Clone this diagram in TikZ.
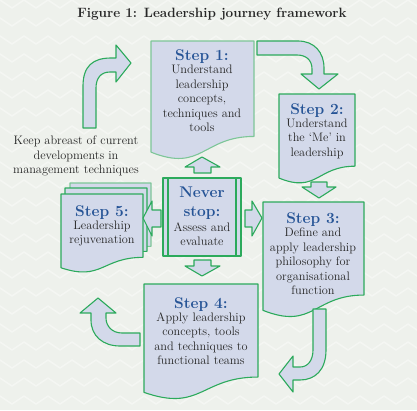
\documentclass[tikz,border=0pt]{standalone}
\usepackage{tikz}
\usetikzlibrary{positioning}
\definecolor{bgpaper}{RGB}{238,241,236}
\definecolor{boxfill}{RGB}{211,217,234}
\definecolor{boxline}{RGB}{44,170,92}
\definecolor{paleline}{RGB}{125,198,152}
\definecolor{headblue}{RGB}{38,84,150}
\definecolor{bodygrey}{RGB}{38,38,38}
% document shape: [style] left, top, right, height
\newcommand{\docshape}[5][]{%
  \filldraw[shapebox,#1] (#2,#3) -- (#4,#3) -- (#4,{#3+0.802*#5})
    .. controls ({(#2+#4)/2},{#3+0.802*#5}) and ({(#2+#4)/2},{#3+1.107*#5}) .. (#2,{#3+0.934*#5}) -- cycle;}
\newcommand{\head}[1]{{\fontsize{15.5}{18}\selectfont\bfseries\color{headblue}#1}}

\begin{document}
\begin{tikzpicture}[x=1pt,y=-1pt,line join=round,
  shapebox/.style={fill=boxfill,draw=boxline,line width=1.1pt},
  blockarrow/.style={fill=boxfill,draw=boxline,line width=1.1pt},
  boxtext/.style={align=center,inner sep=0pt,text=bodygrey,font=\fontsize{12.3}{14.5}\selectfont}]
\useasboundingbox (0,0) rectangle (417,410);
\fill[bgpaper] (0,0) rectangle (417,410);
% faint zigzag paper pattern
\begin{scope}
\clip (0,0) rectangle (417,410);
\foreach \y in {-10,8,...,420}
  \draw[white,opacity=0.4,line width=1.4pt]
    (-10,\y) \foreach \x in {0,24,...,432} { -- (\x,\y-8) -- (\x+12,\y) };
\end{scope}
\node[font=\fontsize{13.5}{16}\selectfont\bfseries,text=bodygrey] (title) at (212,14) {Figure 1: Leadership journey framework};

% documents
\docshape[draw=paleline]{151}{41}{254}{119}
\docshape{279}{94}{355}{90}
\docshape{263}{202}{364}{116}
\docshape{144}{284}{258}{116}
% step 5 stack
\docshape[draw=paleline]{70}{183}{151}{79}
\docshape{65}{188}{147}{79}
\docshape{61}{194}{143}{79}
% never stop box
\filldraw[shapebox] (163,178) rectangle (241,256);
\draw[boxline,line width=1.1pt] (168,178) -- (168,256) (236,178) -- (236,256);

% straight block arrows
\filldraw[blockarrow] (194,173) -- (194,167) -- (185,167) -- (202,157) -- (220,167) -- (211,167) -- (211,173) -- cycle;
\filldraw[blockarrow] (194,260) -- (211,260) -- (211,266) -- (220,266) -- (202,276) -- (185,266) -- (194,266) -- cycle;
\filldraw[blockarrow] (311,182) -- (327,182) -- (327,187) -- (336,187) -- (319,198) -- (302,187) -- (311,187) -- cycle;
\filldraw[blockarrow] (245,210) -- (252,210) -- (252,201) -- (262,218) -- (252,236) -- (252,227) -- (245,227) -- cycle;
\filldraw[blockarrow] (161,210) -- (152,210) -- (152,201) -- (143,218) -- (152,236) -- (152,227) -- (161,227) -- cycle;
% curved block arrows
\filldraw[blockarrow] (83,128) -- (83,86) .. controls (83,66) and (93,58) .. (111,58) -- (116,58) -- (116,45) -- (131,63)
  -- (116,82) -- (116,72) -- (110,72) .. controls (101,72) and (96,78) .. (96,88) -- (96,128) -- cycle;
\filldraw[blockarrow] (257,41) -- (298,41) .. controls (314,41) and (324,52) .. (324,68) -- (324,74) -- (338,74) -- (319,89)
  -- (301,74) -- (312,74) -- (312,69) .. controls (312,60) and (306,55) .. (297,55) -- (257,55) -- cycle;
\filldraw[blockarrow] (313,309) -- (326,309) -- (326,350) .. controls (326,370) and (315,380) .. (300,380) -- (293,380)
  -- (293,392) -- (279,374) -- (293,356) -- (293,367) -- (300,367) .. controls (308,367) and (313,360) .. (313,350) -- cycle;
\filldraw[blockarrow] (140,333) -- (122,333) .. controls (112,333) and (106,326) .. (106,318) -- (106,313) -- (116,313)
  -- (98,298) -- (80,313) -- (91,313) -- (91,320) .. controls (91,336) and (103,346) .. (120,346) -- (140,346) -- cycle;

% texts
\node[boxtext] (s1) at (202,91) {\head{Step 1:}\\[-1.5pt] Understand\\ leadership\\ concepts,\\ techniques and\\ tools};
\node[boxtext] (s2) at (317,131) {\head{Step 2:}\\[-1.5pt] Understand\\ the `Me' in\\ leadership};
\node[boxtext] (s3) at (313,254) {\head{Step 3:}\\[-1.5pt] Define and\\ apply leadership\\ philosophy for\\ organisational\\ function};
\node[boxtext] (s4) at (201,331) {\head{Step 4:}\\[-1.5pt] Apply leadership\\ concepts, tools\\ and techniques to\\ functional teams};
\node[boxtext] (s5) at (102,226) {\head{Step 5:}\\[-1.5pt] Leadership\\ rejuvenation};
\node[boxtext] (never) at (202,216) {\head{Never}\\[5pt] \head{stop:}\\[0pt] Assess and\\ evaluate};
\node[boxtext] (keep) at (76,156) {Keep abreast of current\\ developments in\\ management techniques};
\end{tikzpicture}
\end{document}
